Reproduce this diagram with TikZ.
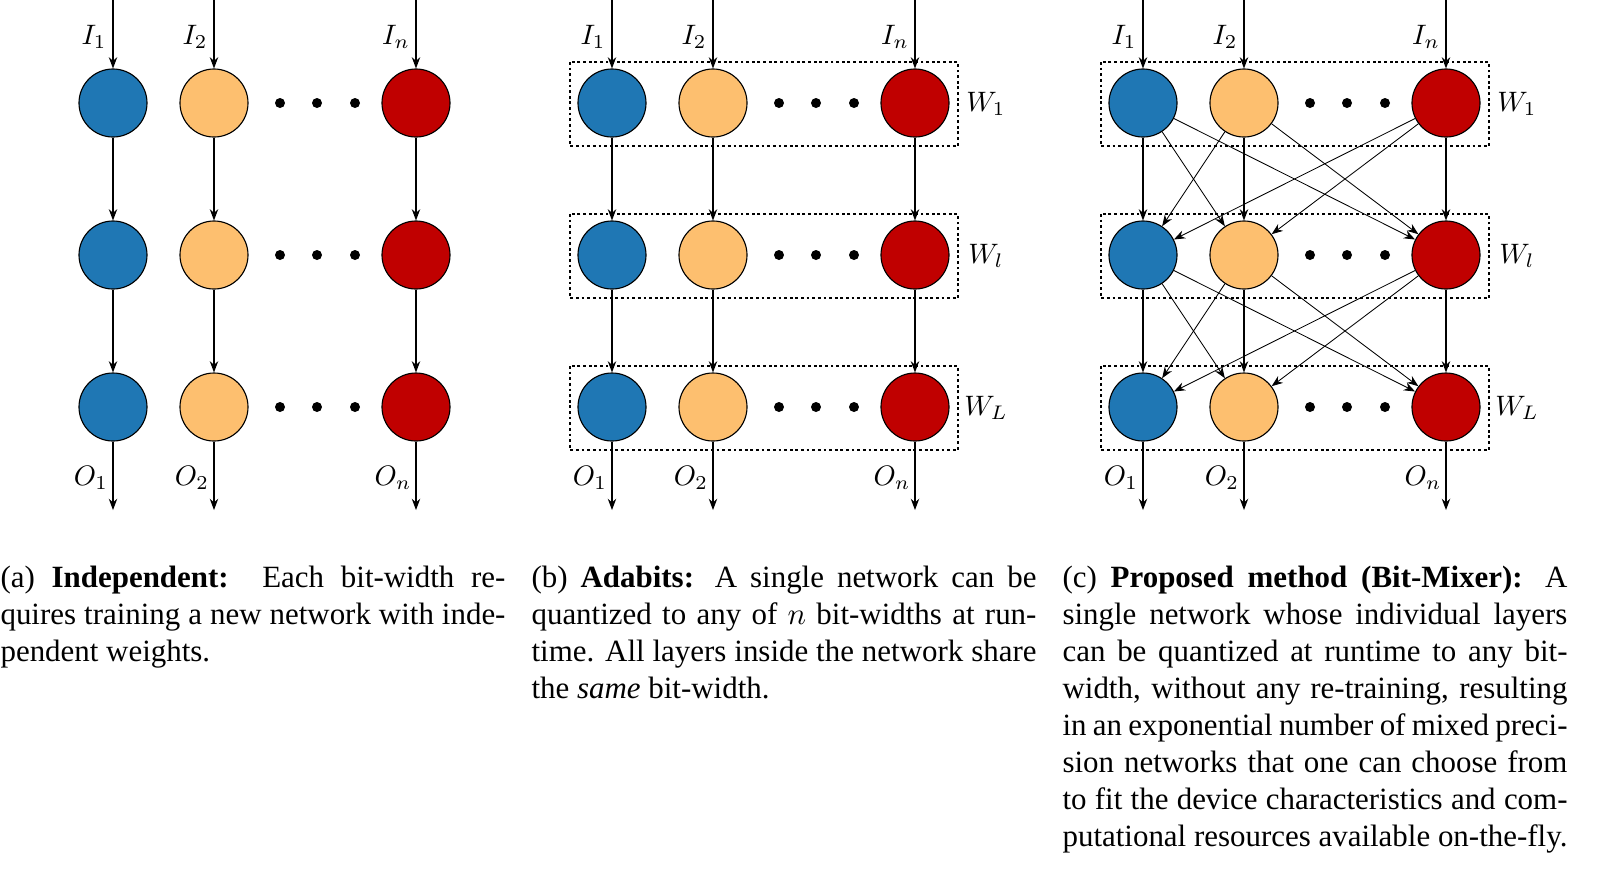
\documentclass[tikz,border=0pt]{standalone}
\usepackage{fontspec}
\setmainfont{Liberation Serif}
\usetikzlibrary{arrows.meta}
\definecolor{cb}{HTML}{1F77B4}
\definecolor{co}{HTML}{FDBF6F}
\definecolor{cr}{HTML}{C00000}
\begin{document}
\begin{tikzpicture}[x=0.0125cm,y=-0.0125cm,
  neu/.style={circle,draw=black,minimum size=0.85cm,inner sep=0pt},
  arr/.style={-{Stealth[length=4pt,width=3pt]},line width=0.4pt},
  xarr/.style={-{Stealth[length=4pt,width=3pt]},line width=0.3pt},
  lab/.style={font=\fontsize{10}{12}\selectfont},
  box/.style={densely dotted,line width=1pt},
  captxt/.style={anchor=north west,text width=6.31cm,align=justify,inner sep=0pt,font=\fontsize{11}{13.2}\selectfont}]
\useasboundingbox (0,0) rectangle (1601,876);
\foreach \p/\ox in {a/0,b/499,c/1030}{
  \foreach \r/\y in {1/103,2/255,3/407}{
    \node[neu,fill=cb] (n-\p-\r-1) at (113+\ox,\y) {};
    \node[neu,fill=co] (n-\p-\r-2) at (214+\ox,\y) {};
    \node[neu,fill=cr] (n-\p-\r-3) at (416+\ox,\y) {};
    \foreach \dx in {280,317,355}{\fill (\dx+\ox,\y) circle (5);}
  }
  \foreach \i/\cx in {1/113,2/214,3/416}{
    \coordinate (t-\p-\i) at (\cx+\ox,0);
    \coordinate (b-\p-\i) at (\cx+\ox,510);
    \draw[arr] (t-\p-\i) -- (n-\p-1-\i);
    \draw[arr] (n-\p-1-\i) -- (n-\p-2-\i);
    \draw[arr] (n-\p-2-\i) -- (n-\p-3-\i);
    \draw[arr] (n-\p-3-\i) -- (b-\p-\i);
  }
  \node[lab] (li1-\p) at (94+\ox,37) {$I_1$};
  \node[lab] (li2-\p) at (195+\ox,37) {$I_2$};
  \node[lab] (li3-\p) at (396+\ox,37) {$I_n$};
  \node[lab] (lo1-\p) at (91+\ox,478) {$O_1$};
  \node[lab] (lo2-\p) at (192+\ox,478) {$O_2$};
  \node[lab] (lo3-\p) at (393+\ox,478) {$O_n$};
}
\foreach \p/\ox in {b/0,c/531}{
  \foreach \y/\w in {62/1,214/l,366/L}{
    \draw[box] (570+\ox,\y) rectangle (958+\ox,\y+84);
    \node[lab] (w-\p-\w) at (986+\ox,\y+42) {$W_{\w}$};
  }
}
\foreach \r/\s in {1/2,2/3}{
  \foreach \i in {1,2,3}{
    \foreach \j in {1,2,3}{
      \ifnum\i=\j\else
        \draw[xarr] (n-c-\r-\i) -- (n-c-\s-\j);
      \fi
    }
  }
}
\node[captxt] (ca) at (0,565) {(a) \textbf{Independent:}\ \ Each bit-width re-\linebreak quires training a new network with inde-\linebreak pendent weights.};
\node[captxt] (cb) at (531,565) {(b) \textbf{Adabits:} A single network can be\linebreak quantized to any of $n$ bit-widths at run-\linebreak time. All layers inside the network share\linebreak the \textit{same} bit-width.};
\node[captxt] (cc) at (1062,565) {(c) \textbf{Proposed method (Bit-Mixer):} A\linebreak single network whose individual layers\linebreak can be quantized at runtime to any bit-\linebreak width, without any re-training, resulting\linebreak in an exponential number of mixed preci-\linebreak sion networks that one can choose from\linebreak to fit the device characteristics and com-\linebreak putational resources available on-the-fly.};
\end{tikzpicture}
\end{document}
